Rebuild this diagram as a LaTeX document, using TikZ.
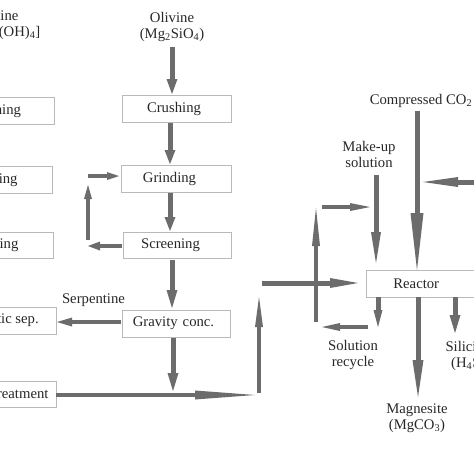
\documentclass[tikz,border=0pt]{standalone}
\usepackage{fontspec}
\setmainfont{Liberation Serif}
\usetikzlibrary{arrows.meta,calc}
\definecolor{arrowgray}{RGB}{108,108,108}
\definecolor{boxgray}{RGB}{185,185,185}
\definecolor{txtgray}{RGB}{40,40,40}
\begin{document}
\begin{tikzpicture}[x=1pt,y=-1pt,
  every node/.style={font=\fontsize{14.7}{16}\selectfont, text=txtgray},
  box/.style={draw=boxgray, line width=0.8pt, fill=white, minimum height=27pt, inner sep=0pt},
  fa/.style 2 args={draw=arrowgray, line width=5pt, -{Triangle[length=#1,width=#2,line width=0pt]}},
  thinfa/.style 2 args={draw=arrowgray, line width=4pt, -{Triangle[length=#1,width=#2,line width=0pt]}}]
\useasboundingbox (0,0) rectangle (474,474);
\fill[white] (0,0) rectangle (474,474);
\clip (0,0) rectangle (474,474);

% middle column
\node[box, minimum width=109pt] (crush) at (176.5,108.5) {Crushing\hspace*{5pt}};
\node[box, minimum width=110pt] (grind) at (176,178.5) {Grinding\hspace*{13pt}};
\node[box, minimum width=108pt, minimum height=26pt] (screen) at (177,245) {Screening\hspace*{13pt}};
\node[box, minimum width=108pt] (grav) at (176,323.5) {Gravity\hspace{5pt}conc.\hspace*{5pt}};

% left column (cut off)
\node[box, minimum width=120pt] (crushL) at (-6,110.5) {Crushing};
\node[box, minimum width=122pt] (grindL) at (-9,179.5) {Grinding};
\node[box, minimum width=128pt, minimum height=26pt] (screenL) at (-11,245) {Screening};
\node[box, minimum width=117pt] (magL) at (-2.5,320.5) {Magnetic sep.};
\node[box, minimum width=102pt, minimum height=26pt] (heatL) at (5,394) {Heat treatment};

% reactor
\node[box, anchor=west, inner xsep=27pt, text width=100pt, align=left] (reactor) at (366,283.5) {Reactor};

% texts
\node[align=center] (olivine) at (172,27) {Olivine\\(Mg\textsubscript{2}SiO\textsubscript{4})};
\node[align=center] (serp) at (-13,25) {Serpentine\\{[}Mg\textsubscript{3}Si\textsubscript{2}O\textsubscript{5}(OH)\textsubscript{4}{]}};
\node (serplbl) at (93.5,300) {Serpentine};
\node[align=center] (makeup) at (369,154) {Make-up\\solution};
\node (co2) at (421,101) {Compressed CO\textsubscript{2}};
\node[align=center] (recyc) at (353,355) {Solution\\recycle};
\node[align=center] (magnesite) at (417,418) {Magnesite\\(MgCO\textsubscript{3})};
\node[align=center, anchor=west] (silicic) at (442,356) {Silicic acid\\(H\textsubscript{4}SiO\textsubscript{4})};

% connector end points
\coordinate (a1s) at (172,47);   \coordinate (a1e) at (172,94);
\coordinate (a2s) at (170,123);  \coordinate (a2e) at (170,164);
\coordinate (a3s) at (170,193);  \coordinate (a3e) at (170,231);
\coordinate (a4s) at (172,260);  \coordinate (a4e) at (172,308);
\coordinate (l1s) at (122,246);  \coordinate (l1e) at (88,246);
\coordinate (l2s) at (88,240);   \coordinate (l2e) at (88,185);
\coordinate (l3s) at (88,176);   \coordinate (l3e) at (119,176);
\coordinate (s1s) at (121,322);  \coordinate (s1e) at (57,322);
\coordinate (g1s) at (173,338);  \coordinate (g1e) at (173,391);
\coordinate (h1s) at (56,395);   \coordinate (h1e) at (255,395);
\coordinate (u1s) at (259,393);  \coordinate (u1e) at (259,297);
\coordinate (r1s) at (262,283);  \coordinate (r1e) at (358,283);
\coordinate (c1s) at (316,322);  \coordinate (c1e) at (316,208);
\coordinate (c2s) at (322,207);  \coordinate (c2e) at (370,207);
\coordinate (m1s) at (376,175);  \coordinate (m1e) at (376,263);
\coordinate (co2s) at (417,111); \coordinate (co2e) at (417,270);
\coordinate (rts) at (480,182);  \coordinate (rte) at (423,182);
\coordinate (d1s) at (378,297);  \coordinate (d1e) at (378,327);
\coordinate (d2s) at (368,327);  \coordinate (d2e) at (322,327);
\coordinate (mgs) at (418,297);  \coordinate (mge) at (418,397);
\coordinate (sis) at (455,297);  \coordinate (sie) at (455,333);

% connectors
\draw[fa={15pt}{11pt}] (a1s) -- (a1e);
\draw[fa={14pt}{11pt}] (a2s) -- (a2e);
\draw[fa={14pt}{11pt}] (a3s) -- (a3e);
\draw[fa={18pt}{11pt}] (a4s) -- (a4e);
\draw[thinfa={12pt}{9pt}] (l1s) -- (l1e);
\draw[thinfa={14pt}{8pt}] (l2s) -- (l2e);
\draw[thinfa={12pt}{8pt}] (l3s) -- (l3e);
\draw[thinfa={15pt}{9pt}] (s1s) -- (s1e);
\draw[fa={18pt}{11pt}] (g1s) -- (g1e);
\draw[thinfa={60pt}{9pt}] (h1s) -- (h1e);
\draw[thinfa={30pt}{8pt}] (u1s) -- (u1e);
\draw[fa={28pt}{10pt}] (r1s) -- (r1e);
\draw[thinfa={38pt}{8pt}] (c1s) -- (c1e);
\draw[thinfa={20pt}{8pt}] (c2s) -- (c2e);
\draw[fa={31pt}{10pt}] (m1s) -- (m1e);
\draw[fa={57pt}{13pt}] (co2s) -- (co2e);
\draw[fa={35pt}{10pt}] (rts) -- (rte);
\draw[fa={17pt}{9pt}] (d1s) -- (d1e);
\draw[thinfa={18pt}{8pt}] (d2s) -- (d2e);
\draw[fa={37pt}{11pt}] (mgs) -- (mge);
\draw[fa={18pt}{11pt}] (sis) -- (sie);
\end{tikzpicture}
\end{document}
